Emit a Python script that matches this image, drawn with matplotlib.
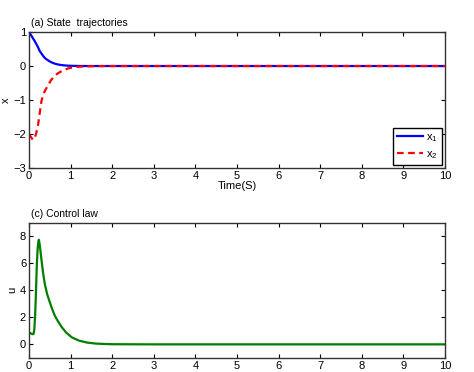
import matplotlib
matplotlib.use('Agg')
import matplotlib.pyplot as plt
import numpy as np

plt.rcParams['font.family'] = ['Liberation Sans', 'DejaVu Sans']
plt.rcParams['font.size'] = 8
plt.rcParams['mathtext.fontset'] = 'custom'
plt.rcParams['mathtext.rm'] = 'Liberation Sans'

# state trajectories
t_x = [0, 0.04, 0.08, 0.1, 0.14, 0.18, 0.22, 0.26, 0.3, 0.34, 0.38, 0.42, 0.48,
       0.54, 0.62, 0.7, 0.8, 0.94, 1.06, 1.2, 1.4, 1.6, 2.0, 3, 4, 5, 6, 7, 8, 9, 10]
x1 = [1.0, 0.93, 0.85, 0.81, 0.73, 0.64, 0.55, 0.44, 0.37, 0.3, 0.24, 0.2, 0.15,
      0.11, 0.07, 0.045, 0.025, 0.01, 0.005, 0.002, 0, 0, 0, 0, 0, 0, 0, 0, 0, 0, 0]
x2 = [-2.0, -2.07, -2.14, -2.17, -2.12, -1.95, -1.73, -1.38, -1.04, -0.85, -0.74,
      -0.65, -0.52, -0.4, -0.29, -0.21, -0.14, -0.07, -0.04, -0.02, -0.008, -0.003,
      0, 0, 0, 0, 0, 0, 0, 0, 0]

# control law
t_u = [0, 0.04, 0.08, 0.11, 0.13, 0.15, 0.17, 0.19, 0.21, 0.23, 0.24, 0.26,
       0.28, 0.3, 0.34, 0.38, 0.44, 0.5, 0.56, 0.62, 0.7, 0.79, 0.9, 1.03, 1.2,
       1.4, 1.6, 1.8, 2.0, 3, 4, 5, 6, 7, 8, 9, 10]
u = [0.86, 0.82, 0.76, 0.76, 1.1, 2.2, 3.9, 5.9, 7.1, 7.65, 7.75, 7.35,
     6.85, 6.3, 5.3, 4.5, 3.7, 3.14, 2.6, 2.14, 1.7, 1.27, 0.86, 0.52, 0.28,
     0.13, 0.06, 0.03, 0.01, 0, 0, 0, 0, 0, 0, 0, 0]

xticks = list(range(0, 11))

fig = plt.figure(figsize=(4.74, 3.72), dpi=100)

ax1 = fig.add_axes([0.061, 0.548, 0.878, 0.366])
ax1.plot(t_x, x1, color='#0000ff', lw=1.6, label=r'$\mathregular{x_1}$')
ax1.plot(t_x, x2, color='#ff0000', lw=1.6, ls=(0, (3, 2)), label=r'$\mathregular{x_2}$')
ax1.set_xlim(0, 10)
ax1.set_ylim(-3, 1)
ax1.set_xticks(xticks)
ax1.set_yticks([-3, -2, -1, 0, 1])
ax1.set_yticklabels(['\u22123', '\u22122', '\u22121', '0', '1'])
ax1.set_xlabel('Time(S)', labelpad=0)
ax1.set_ylabel('x', labelpad=2)
ax1.text(0.005, 1.03, '(a) State  trajectories', transform=ax1.transAxes, ha='left', va='bottom',
         fontsize=7.5)
leg = ax1.legend(loc='lower right', fancybox=False, framealpha=1, edgecolor='black',
                 handlelength=2.3, borderaxespad=0.3, labelspacing=0.45, handletextpad=0.3,
                 borderpad=0.35, fontsize=8)
leg.get_frame().set_linewidth(1.0)

ax2 = fig.add_axes([0.061, 0.038, 0.878, 0.363])
ax2.plot(t_u, u, color='#007f00', lw=1.6)
ax2.set_xlim(0, 10)
ax2.set_ylim(-1, 9)
ax2.set_xticks(xticks)
ax2.set_yticks([0, 2, 4, 6, 8])
ax2.set_ylabel('u', labelpad=2)
ax2.text(0.005, 1.03, '(c) Control law', transform=ax2.transAxes, ha='left', va='bottom',
         fontsize=7.5)

for ax in (ax1, ax2):
    ax.tick_params(direction='in', top=True, right=True, length=3, width=0.8, pad=2)
    for s in ax.spines.values():
        s.set_linewidth(1.0)
        s.set_color('#333333')

fig.savefig('out.png', dpi=100)
